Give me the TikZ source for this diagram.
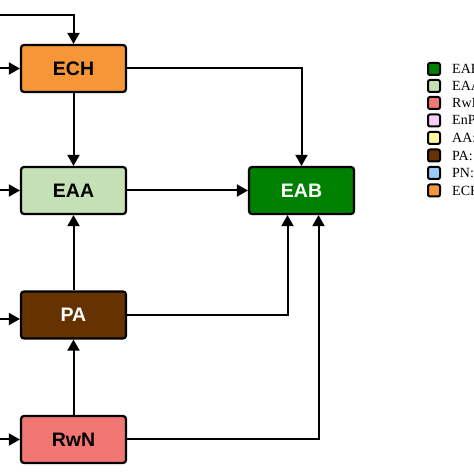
\documentclass[tikz,border=0pt]{standalone}
\usepackage{fontspec}
\setmainfont{Liberation Serif}
\setsansfont{Liberation Sans}
\usetikzlibrary{arrows.meta,positioning}

\definecolor{echcol}{RGB}{247,150,56}
\definecolor{eaacol}{RGB}{197,224,180}
\definecolor{pacol}{RGB}{102,51,0}
\definecolor{rwncol}{RGB}{242,118,114}
\definecolor{eabcol}{RGB}{0,128,0}
\definecolor{enpcol}{RGB}{249,204,249}
\definecolor{aacol}{RGB}{255,250,160}
\definecolor{pncol}{RGB}{157,201,245}

\tikzstyle{block}=[
    rectangle,
    rounded corners=3pt,
    line width=2.2pt,
    draw=black,
    minimum width=105pt,
    minimum height=47pt,
    font=\sffamily\bfseries\fontsize{19.5}{20}\selectfont
]
\tikzstyle{legbox}=[
    rectangle,
    rounded corners=2pt,
    line width=2pt,
    draw=black,
    minimum size=12pt,
    inner sep=0pt
]
\tikzstyle{legtext}=[
    anchor=west,
    inner sep=0pt,
    font=\fontsize{14}{14}\selectfont
]
\tikzstyle{conn}=[
    ->,
    line width=2pt,
    draw=black
]

\begin{document}
\begin{tikzpicture}[x=1pt,y=1pt,>={Triangle[length=11pt,width=12pt]}]
	\clip (0,0) rectangle (474,474);

	% BLOCKS
	\node (ECH) [block, fill=echcol] at (73.5,405.5) {ECH};
	\node (EAA) [block, fill=eaacol] at (73.5,283.5) {EAA};
	\node (PA)  [block, fill=pacol, text=white] at (73.5,159) {PA};
	\node (RwN) [block, fill=rwncol] at (73.5,34.5) {RwN};
	\node (EAB) [block, fill=eabcol, text=white] at (301.5,283.5) {EAB};

	% inputs from the left edge
	\coordinate (in_top) at (0,459);
	\coordinate (in_ech) at (0,405.5);
	\coordinate (in_eaa) at (0,283.5);
	\coordinate (in_pa)  at (0,155);
	\coordinate (in_rwn) at (0,34.5);

	\path
	% Inputs
	(in_ech) edge[conn] (ECH)
	(in_eaa) edge[conn] (EAA)
	(in_pa)  edge[conn] (in_pa -| PA.west)
	(in_rwn) edge[conn] (RwN)

	% Vertical connections
	(ECH) edge[conn] (EAA)
	(PA)  edge[conn] (EAA)
	(RwN) edge[conn] (PA)

	% Into EAB
	(EAA) edge[conn] (EAB)
	;
	\draw[conn] (in_top) -| (ECH.north);
	\draw[conn] (ECH.east) -| (EAB.north);
	\draw[conn] (PA.east) -| ([xshift=-14pt]EAB.south);
	\draw[conn] (RwN.east) -| ([xshift=17pt]EAB.south);

	% LEGEND
	\node (leg_eab) [legbox, fill=eabcol] at (434,405) {};
	\node (leg_eaa) [legbox, fill=eaacol] at (434,388) {};
	\node (leg_rwn) [legbox, fill=rwncol] at (434,371) {};
	\node (leg_enp) [legbox, fill=enpcol] at (434,353.5) {};
	\node (leg_aa)  [legbox, fill=aacol]  at (434,336) {};
	\node (leg_pa)  [legbox, fill=pacol]  at (434,318.5) {};
	\node (leg_pn)  [legbox, fill=pncol]  at (434,301) {};
	\node (leg_ech) [legbox, fill=echcol] at (434,283.5) {};

	\node [legtext] at (452,405) {EAB:};
	\node [legtext] at (452,388) {EAA:};
	\node [legtext] at (452,371) {RwN:};
	\node [legtext] at (452,353.5) {EnP:};
	\node [legtext] at (452,336) {AA:};
	\node [legtext] at (452,318.5) {PA:};
	\node [legtext] at (452,301) {PN:};
	\node [legtext] at (452,283.5) {ECH:};
\end{tikzpicture}
\end{document}
